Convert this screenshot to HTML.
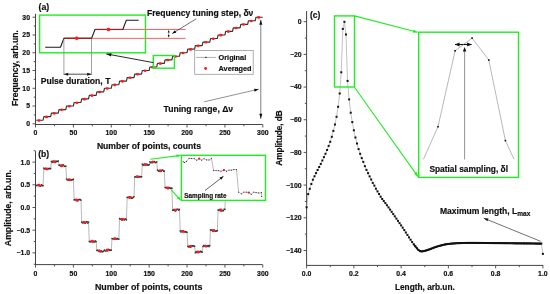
<!DOCTYPE html>
<html><head><meta charset="utf-8"><title>Figure</title>
<style>
html,body{margin:0;padding:0;background:#fff;}
svg{display:block;}
svg text{font-family:"Liberation Sans", Arial, sans-serif;font-weight:bold;fill:#111;stroke:#111;stroke-width:0.18px;}
</style></head>
<body>
<svg width="550" height="294" viewBox="0 0 550 294">
<rect width="550" height="294" fill="#fff"/>
<line x1="35.5" y1="13.8" x2="35.5" y2="124.5" stroke="#444" stroke-width="1" />
<line x1="32.5" y1="123.8" x2="35.5" y2="123.8" stroke="#444" stroke-width="0.9" />
<text x="30" y="126.2" font-size="6.9" text-anchor="end" >0</text>
<line x1="33.7" y1="114.92" x2="35.5" y2="114.92" stroke="#444" stroke-width="0.9" />
<line x1="32.5" y1="106.03" x2="35.5" y2="106.03" stroke="#444" stroke-width="0.9" />
<text x="30" y="108.44" font-size="6.9" text-anchor="end" >5</text>
<line x1="33.7" y1="97.15" x2="35.5" y2="97.15" stroke="#444" stroke-width="0.9" />
<line x1="32.5" y1="88.27" x2="35.5" y2="88.27" stroke="#444" stroke-width="0.9" />
<text x="30" y="90.67" font-size="6.9" text-anchor="end" >10</text>
<line x1="33.7" y1="79.39" x2="35.5" y2="79.39" stroke="#444" stroke-width="0.9" />
<line x1="32.5" y1="70.5" x2="35.5" y2="70.5" stroke="#444" stroke-width="0.9" />
<text x="30" y="72.91" font-size="6.9" text-anchor="end" >15</text>
<line x1="33.7" y1="61.62" x2="35.5" y2="61.62" stroke="#444" stroke-width="0.9" />
<line x1="32.5" y1="52.74" x2="35.5" y2="52.74" stroke="#444" stroke-width="0.9" />
<text x="30" y="55.14" font-size="6.9" text-anchor="end" >20</text>
<line x1="33.7" y1="43.86" x2="35.5" y2="43.86" stroke="#444" stroke-width="0.9" />
<line x1="32.5" y1="34.97" x2="35.5" y2="34.97" stroke="#444" stroke-width="0.9" />
<text x="30" y="37.37" font-size="6.9" text-anchor="end" >25</text>
<line x1="33.7" y1="26.09" x2="35.5" y2="26.09" stroke="#444" stroke-width="0.9" />
<line x1="32.5" y1="17.21" x2="35.5" y2="17.21" stroke="#444" stroke-width="0.9" />
<text x="30" y="19.61" font-size="6.9" text-anchor="end" >30</text>
<line x1="35" y1="124.5" x2="262.6" y2="124.5" stroke="#444" stroke-width="1" />
<line x1="35.5" y1="124.5" x2="35.5" y2="127.5" stroke="#444" stroke-width="0.9" />
<text x="35.5" y="135.2" font-size="6.9" text-anchor="middle" >0</text>
<line x1="54.44" y1="124.5" x2="54.44" y2="126.3" stroke="#444" stroke-width="0.9" />
<line x1="73.39" y1="124.5" x2="73.39" y2="127.5" stroke="#444" stroke-width="0.9" />
<text x="73.39" y="135.2" font-size="6.9" text-anchor="middle" >50</text>
<line x1="92.33" y1="124.5" x2="92.33" y2="126.3" stroke="#444" stroke-width="0.9" />
<line x1="111.27" y1="124.5" x2="111.27" y2="127.5" stroke="#444" stroke-width="0.9" />
<text x="111.27" y="135.2" font-size="6.9" text-anchor="middle" >100</text>
<line x1="130.21" y1="124.5" x2="130.21" y2="126.3" stroke="#444" stroke-width="0.9" />
<line x1="149.16" y1="124.5" x2="149.16" y2="127.5" stroke="#444" stroke-width="0.9" />
<text x="149.16" y="135.2" font-size="6.9" text-anchor="middle" >150</text>
<line x1="168.1" y1="124.5" x2="168.1" y2="126.3" stroke="#444" stroke-width="0.9" />
<line x1="187.04" y1="124.5" x2="187.04" y2="127.5" stroke="#444" stroke-width="0.9" />
<text x="187.04" y="135.2" font-size="6.9" text-anchor="middle" >200</text>
<line x1="205.98" y1="124.5" x2="205.98" y2="126.3" stroke="#444" stroke-width="0.9" />
<line x1="224.93" y1="124.5" x2="224.93" y2="127.5" stroke="#444" stroke-width="0.9" />
<text x="224.93" y="135.2" font-size="6.9" text-anchor="middle" >250</text>
<line x1="243.87" y1="124.5" x2="243.87" y2="126.3" stroke="#444" stroke-width="0.9" />
<line x1="262.81" y1="124.5" x2="262.81" y2="127.5" stroke="#444" stroke-width="0.9" />
<text x="262.81" y="135.2" font-size="6.9" text-anchor="middle" >300</text>
<polyline points="36.26,120.25 37.02,120.25 37.77,120.25 38.53,120.25 39.29,120.25 40.05,120.25 40.8,120.25 41.56,120.25 42.32,120.25 43.08,120.25 43.83,116.69 44.59,116.69 45.35,116.69 46.11,116.69 46.87,116.69 47.62,116.69 48.38,116.69 49.14,116.69 49.9,116.69 50.65,116.69 51.41,113.14 52.17,113.14 52.93,113.14 53.68,113.14 54.44,113.14 55.2,113.14 55.96,113.14 56.72,113.14 57.47,113.14 58.23,113.14 58.99,109.59 59.75,109.59 60.5,109.59 61.26,109.59 62.02,109.59 62.78,109.59 63.53,109.59 64.29,109.59 65.05,109.59 65.81,109.59 66.57,106.03 67.32,106.03 68.08,106.03 68.84,106.03 69.6,106.03 70.35,106.03 71.11,106.03 71.87,106.03 72.63,106.03 73.39,106.03 74.14,102.48 74.9,102.48 75.66,102.48 76.42,102.48 77.17,102.48 77.93,102.48 78.69,102.48 79.45,102.48 80.2,102.48 80.96,102.48 81.72,98.93 82.48,98.93 83.24,98.93 83.99,98.93 84.75,98.93 85.51,98.93 86.27,98.93 87.02,98.93 87.78,98.93 88.54,98.93 89.3,95.38 90.05,95.38 90.81,95.38 91.57,95.38 92.33,95.38 93.09,95.38 93.84,95.38 94.6,95.38 95.36,95.38 96.12,95.38 96.87,91.82 97.63,91.82 98.39,91.82 99.15,91.82 99.9,91.82 100.66,91.82 101.42,91.82 102.18,91.82 102.94,91.82 103.69,91.82 104.45,88.27 105.21,88.27 105.97,88.27 106.72,88.27 107.48,88.27 108.24,88.27 109,88.27 109.75,88.27 110.51,88.27 111.27,88.27 112.03,84.72 112.79,84.72 113.54,84.72 114.3,84.72 115.06,84.72 115.82,84.72 116.57,84.72 117.33,84.72 118.09,84.72 118.85,84.72 119.6,81.16 120.36,81.16 121.12,81.16 121.88,81.16 122.64,81.16 123.39,81.16 124.15,81.16 124.91,81.16 125.67,81.16 126.42,81.16 127.18,77.61 127.94,77.61 128.7,77.61 129.45,77.61 130.21,77.61 130.97,77.61 131.73,77.61 132.49,77.61 133.24,77.61 134,77.61 134.76,74.06 135.52,74.06 136.27,74.06 137.03,74.06 137.79,74.06 138.55,74.06 139.3,74.06 140.06,74.06 140.82,74.06 141.58,74.06 142.34,70.5 143.09,70.5 143.85,70.5 144.61,70.5 145.37,70.5 146.12,70.5 146.88,70.5 147.64,70.5 148.4,70.5 149.16,70.5 149.91,66.95 150.67,66.95 151.43,66.95 152.19,66.95 152.94,66.95 153.7,66.95 154.46,66.95 155.22,66.95 155.97,66.95 156.73,66.95 157.49,63.4 158.25,63.4 159.01,63.4 159.76,63.4 160.52,63.4 161.28,63.4 162.04,63.4 162.79,63.4 163.55,63.4 164.31,63.4 165.07,59.85 165.82,59.85 166.58,59.85 167.34,59.85 168.1,59.85 168.86,59.85 169.61,59.85 170.37,59.85 171.13,59.85 171.89,59.85 172.64,56.29 173.4,56.29 174.16,56.29 174.92,56.29 175.67,56.29 176.43,56.29 177.19,56.29 177.95,56.29 178.71,56.29 179.46,56.29 180.22,52.74 180.98,52.74 181.74,52.74 182.49,52.74 183.25,52.74 184.01,52.74 184.77,52.74 185.52,52.74 186.28,52.74 187.04,52.74 187.8,49.19 188.56,49.19 189.31,49.19 190.07,49.19 190.83,49.19 191.59,49.19 192.34,49.19 193.1,49.19 193.86,49.19 194.62,49.19 195.37,45.63 196.13,45.63 196.89,45.63 197.65,45.63 198.41,45.63 199.16,45.63 199.92,45.63 200.68,45.63 201.44,45.63 202.19,45.63 202.95,42.08 203.71,42.08 204.47,42.08 205.22,42.08 205.98,42.08 206.74,42.08 207.5,42.08 208.26,42.08 209.01,42.08 209.77,42.08 210.53,38.53 211.29,38.53 212.04,38.53 212.8,38.53 213.56,38.53 214.32,38.53 215.07,38.53 215.83,38.53 216.59,38.53 217.35,38.53 218.11,34.97 218.86,34.97 219.62,34.97 220.38,34.97 221.14,34.97 221.89,34.97 222.65,34.97 223.41,34.97 224.17,34.97 224.93,34.97 225.68,31.42 226.44,31.42 227.2,31.42 227.96,31.42 228.71,31.42 229.47,31.42 230.23,31.42 230.99,31.42 231.74,31.42 232.5,31.42 233.26,27.87 234.02,27.87 234.78,27.87 235.53,27.87 236.29,27.87 237.05,27.87 237.81,27.87 238.56,27.87 239.32,27.87 240.08,27.87 240.84,24.32 241.59,24.32 242.35,24.32 243.11,24.32 243.87,24.32 244.63,24.32 245.38,24.32 246.14,24.32 246.9,24.32 247.66,24.32 248.41,20.76 249.17,20.76 249.93,20.76 250.69,20.76 251.44,20.76 252.2,20.76 252.96,20.76 253.72,20.76 254.48,20.76 255.23,20.76 255.99,17.21 256.75,17.21 257.51,17.21 258.26,17.21 259.02,17.21 259.78,17.21 260.54,17.21 261.29,17.21 262.05,17.21 262.81,17.21" fill="none" stroke="#333" stroke-width="1.15" stroke-linejoin="round"/>
<ellipse cx="38.99" cy="120.45" rx="1.65" ry="1.3" fill="#ff1a1a"/>
<ellipse cx="46.56" cy="116.89" rx="1.65" ry="1.3" fill="#ff1a1a"/>
<ellipse cx="54.14" cy="113.34" rx="1.65" ry="1.3" fill="#ff1a1a"/>
<ellipse cx="61.72" cy="109.79" rx="1.65" ry="1.3" fill="#ff1a1a"/>
<ellipse cx="69.29" cy="106.23" rx="1.65" ry="1.3" fill="#ff1a1a"/>
<ellipse cx="76.87" cy="102.68" rx="1.65" ry="1.3" fill="#ff1a1a"/>
<ellipse cx="84.45" cy="99.13" rx="1.65" ry="1.3" fill="#ff1a1a"/>
<ellipse cx="92.02" cy="95.58" rx="1.65" ry="1.3" fill="#ff1a1a"/>
<ellipse cx="99.6" cy="92.02" rx="1.65" ry="1.3" fill="#ff1a1a"/>
<ellipse cx="107.18" cy="88.47" rx="1.65" ry="1.3" fill="#ff1a1a"/>
<ellipse cx="114.76" cy="84.92" rx="1.65" ry="1.3" fill="#ff1a1a"/>
<ellipse cx="122.33" cy="81.36" rx="1.65" ry="1.3" fill="#ff1a1a"/>
<ellipse cx="129.91" cy="77.81" rx="1.65" ry="1.3" fill="#ff1a1a"/>
<ellipse cx="137.49" cy="74.26" rx="1.65" ry="1.3" fill="#ff1a1a"/>
<ellipse cx="145.06" cy="70.7" rx="1.65" ry="1.3" fill="#ff1a1a"/>
<ellipse cx="152.64" cy="67.15" rx="1.65" ry="1.3" fill="#ff1a1a"/>
<ellipse cx="160.22" cy="63.6" rx="1.65" ry="1.3" fill="#ff1a1a"/>
<ellipse cx="167.79" cy="60.05" rx="1.65" ry="1.3" fill="#ff1a1a"/>
<ellipse cx="175.37" cy="56.49" rx="1.65" ry="1.3" fill="#ff1a1a"/>
<ellipse cx="182.95" cy="52.94" rx="1.65" ry="1.3" fill="#ff1a1a"/>
<ellipse cx="190.53" cy="49.39" rx="1.65" ry="1.3" fill="#ff1a1a"/>
<ellipse cx="198.1" cy="45.83" rx="1.65" ry="1.3" fill="#ff1a1a"/>
<ellipse cx="205.68" cy="42.28" rx="1.65" ry="1.3" fill="#ff1a1a"/>
<ellipse cx="213.26" cy="38.73" rx="1.65" ry="1.3" fill="#ff1a1a"/>
<ellipse cx="220.83" cy="35.17" rx="1.65" ry="1.3" fill="#ff1a1a"/>
<ellipse cx="228.41" cy="31.62" rx="1.65" ry="1.3" fill="#ff1a1a"/>
<ellipse cx="235.99" cy="28.07" rx="1.65" ry="1.3" fill="#ff1a1a"/>
<ellipse cx="243.56" cy="24.52" rx="1.65" ry="1.3" fill="#ff1a1a"/>
<ellipse cx="251.14" cy="20.96" rx="1.65" ry="1.3" fill="#ff1a1a"/>
<ellipse cx="258.72" cy="17.41" rx="1.65" ry="1.3" fill="#ff1a1a"/>
<rect x="39.6" y="15.1" width="105.9" height="37.7" fill="white" stroke="#22ec22" stroke-width="1.4"/>
<line x1="63.9" y1="38.35" x2="185.6" y2="38.35" stroke="#ff5c5c" stroke-width="1.0" />
<line x1="95" y1="29.45" x2="185.6" y2="29.45" stroke="#ff5c5c" stroke-width="1.0" />
<polyline points="45.2,47.2 60.5,47.2 63.9,38.35 91.5,38.35 95,29.45 122.8,29.45 126.3,20.3 138.6,20.3" fill="none" stroke="#1a1a1a" stroke-width="1.1" />
<line x1="64.3" y1="38.35" x2="91.3" y2="38.35" stroke="#a82020" stroke-width="1.2" />
<line x1="95.3" y1="29.45" x2="122.6" y2="29.45" stroke="#962222" stroke-width="1.2" />
<ellipse cx="76.7" cy="38.35" rx="2.0" ry="1.75" fill="#ff1a1a"/>
<ellipse cx="108.5" cy="29.45" rx="2.0" ry="1.75" fill="#ff1a1a"/>
<line x1="63.9" y1="38.6" x2="63.9" y2="75" stroke="#888" stroke-width="0.8" />
<line x1="91.5" y1="38.6" x2="91.5" y2="75" stroke="#888" stroke-width="0.8" />
<line x1="77.7" y1="74.2" x2="64.2" y2="74.2" stroke="#222" stroke-width="0.8" />
<polygon points="64.2,74.2 68.2,72.7 68.2,75.7" fill="#111"/>
<line x1="77.7" y1="74.2" x2="91.2" y2="74.2" stroke="#222" stroke-width="0.8" />
<polygon points="91.2,74.2 87.2,75.7 87.2,72.7" fill="#111"/>
<text x="40.7" y="84" font-size="8.6" text-anchor="start" >Pulse duration, T</text>
<rect x="153.3" y="55.5" width="21.1" height="12.7" fill="none" stroke="#22ec22" stroke-width="1.4"/>
<line x1="153.3" y1="62.6" x2="106.3" y2="53.9" stroke="#111" stroke-width="0.9" />
<polygon points="106.3,53.9 111.51,53.24 110.93,56.38" fill="#111"/>
<text x="147" y="15.8" font-size="8.55" text-anchor="start" >Frequency tuning step, δν</text>
<line x1="168.7" y1="33.8" x2="168.7" y2="30.3" stroke="#555" stroke-width="0.6" />
<polygon points="168.7,30.3 169.7,32.5 167.7,32.5" fill="#111"/>
<line x1="168.7" y1="33.8" x2="168.7" y2="37.3" stroke="#555" stroke-width="0.6" />
<polygon points="168.7,37.3 167.7,35.1 169.7,35.1" fill="#111"/>
<line x1="196.2" y1="18.8" x2="172.2" y2="33.6" stroke="#333" stroke-width="0.7" />
<polygon points="172.2,33.6 174.87,30.31 176.34,32.69" fill="#111"/>
<rect x="194.7" y="50.5" width="58.5" height="23.8" fill="white" stroke="#9a9a9a" stroke-width="0.8"/>
<line x1="196.1" y1="57.4" x2="216.1" y2="57.4" stroke="#999" stroke-width="0.8" />
<rect x="205.3" y="56.8" width="1.2" height="1.2" fill="#111"/>
<text x="218.6" y="60.2" font-size="7.3" text-anchor="start" >Original</text>
<circle cx="205.6" cy="68.5" r="1.4" fill="#ff1a1a"/>
<text x="218.6" y="71.4" font-size="7.3" text-anchor="start" >Averaged</text>
<text x="163.6" y="111.6" font-size="8.6" text-anchor="start" >Tuning range, Δν</text>
<line x1="204.1" y1="101.8" x2="258.7" y2="89.2" stroke="#555" stroke-width="0.65" />
<polygon points="258.7,89.2 254.65,91.67 253.98,88.75" fill="#111"/>
<line x1="260.8" y1="60" x2="260.8" y2="19.8" stroke="#555" stroke-width="0.75" />
<polygon points="260.8,19.8 262.3,24.8 259.3,24.8" fill="#111"/>
<line x1="260.8" y1="60" x2="260.8" y2="118.8" stroke="#555" stroke-width="0.75" />
<polygon points="260.8,118.8 259.3,113.8 262.3,113.8" fill="#111"/>
<text x="38.5" y="10.1" font-size="8.8" text-anchor="start" >(a)</text>
<text transform="translate(17.8,68.0) rotate(-90)" font-size="8.55" text-anchor="middle">Frequency, arb.un.</text>
<text x="96.9" y="149.4" font-size="8.6" text-anchor="start" >Number of points, counts</text>
<line x1="35.5" y1="151.1" x2="35.5" y2="264.6" stroke="#444" stroke-width="1" />
<line x1="33.7" y1="264.25" x2="35.5" y2="264.25" stroke="#444" stroke-width="0.9" />
<line x1="32.5" y1="252.9" x2="35.5" y2="252.9" stroke="#444" stroke-width="0.9" />
<text x="30.2" y="255.3" font-size="6.9" text-anchor="end" >−1.0</text>
<line x1="33.7" y1="241.55" x2="35.5" y2="241.55" stroke="#444" stroke-width="0.9" />
<line x1="32.5" y1="230.2" x2="35.5" y2="230.2" stroke="#444" stroke-width="0.9" />
<text x="30.2" y="232.6" font-size="6.9" text-anchor="end" >−0.5</text>
<line x1="33.7" y1="218.85" x2="35.5" y2="218.85" stroke="#444" stroke-width="0.9" />
<line x1="32.5" y1="207.5" x2="35.5" y2="207.5" stroke="#444" stroke-width="0.9" />
<text x="30.2" y="209.9" font-size="6.9" text-anchor="end" >0.0</text>
<line x1="33.7" y1="196.15" x2="35.5" y2="196.15" stroke="#444" stroke-width="0.9" />
<line x1="32.5" y1="184.8" x2="35.5" y2="184.8" stroke="#444" stroke-width="0.9" />
<text x="30.2" y="187.2" font-size="6.9" text-anchor="end" >0.5</text>
<line x1="33.7" y1="173.45" x2="35.5" y2="173.45" stroke="#444" stroke-width="0.9" />
<line x1="32.5" y1="162.1" x2="35.5" y2="162.1" stroke="#444" stroke-width="0.9" />
<text x="30.2" y="164.5" font-size="6.9" text-anchor="end" >1.0</text>
<line x1="33.7" y1="150.75" x2="35.5" y2="150.75" stroke="#444" stroke-width="0.9" />
<line x1="35" y1="264.6" x2="262.6" y2="264.6" stroke="#444" stroke-width="1" />
<line x1="35.5" y1="264.6" x2="35.5" y2="267.6" stroke="#444" stroke-width="0.9" />
<text x="35.5" y="275.8" font-size="6.9" text-anchor="middle" >0</text>
<line x1="54.44" y1="264.6" x2="54.44" y2="266.4" stroke="#444" stroke-width="0.9" />
<line x1="73.39" y1="264.6" x2="73.39" y2="267.6" stroke="#444" stroke-width="0.9" />
<text x="73.39" y="275.8" font-size="6.9" text-anchor="middle" >50</text>
<line x1="92.33" y1="264.6" x2="92.33" y2="266.4" stroke="#444" stroke-width="0.9" />
<line x1="111.27" y1="264.6" x2="111.27" y2="267.6" stroke="#444" stroke-width="0.9" />
<text x="111.27" y="275.8" font-size="6.9" text-anchor="middle" >100</text>
<line x1="130.21" y1="264.6" x2="130.21" y2="266.4" stroke="#444" stroke-width="0.9" />
<line x1="149.16" y1="264.6" x2="149.16" y2="267.6" stroke="#444" stroke-width="0.9" />
<text x="149.16" y="275.8" font-size="6.9" text-anchor="middle" >150</text>
<line x1="168.1" y1="264.6" x2="168.1" y2="266.4" stroke="#444" stroke-width="0.9" />
<line x1="187.04" y1="264.6" x2="187.04" y2="267.6" stroke="#444" stroke-width="0.9" />
<text x="187.04" y="275.8" font-size="6.9" text-anchor="middle" >200</text>
<line x1="205.98" y1="264.6" x2="205.98" y2="266.4" stroke="#444" stroke-width="0.9" />
<line x1="224.93" y1="264.6" x2="224.93" y2="267.6" stroke="#444" stroke-width="0.9" />
<text x="224.93" y="275.8" font-size="6.9" text-anchor="middle" >250</text>
<line x1="243.87" y1="264.6" x2="243.87" y2="266.4" stroke="#444" stroke-width="0.9" />
<line x1="262.81" y1="264.6" x2="262.81" y2="267.6" stroke="#444" stroke-width="0.9" />
<text x="262.81" y="275.8" font-size="6.9" text-anchor="middle" >300</text>
<polyline points="36.26,185.68 37.02,185.18 37.77,185.47 38.53,185.08 39.29,185.05 40.05,185.96 40.8,186.05 41.56,184.7 42.32,185.65 43.08,185.69 43.83,168.1 44.59,168.96 45.35,168.36 46.11,168.95 46.87,168.68 47.62,169.48 48.38,168.69 49.14,168.31 49.9,168.87 50.65,168.52 51.41,161.37 52.17,162.36 52.93,161.22 53.68,161.5 54.44,161.97 55.2,162.41 55.96,161.05 56.72,161.69 57.47,161.29 58.23,161.03 58.99,165.38 59.75,165.04 60.5,165.9 61.26,165.24 62.02,165.82 62.78,165.02 63.53,165.11 64.29,166.39 65.05,166.33 65.81,166.19 66.57,179.05 67.32,179.91 68.08,179.6 68.84,180.13 69.6,179.79 70.35,179.99 71.11,180.05 71.87,179.67 72.63,179.67 73.39,179.15 74.14,199.94 74.9,199.53 75.66,199.65 76.42,199.43 77.17,199.96 77.93,200.79 78.69,199.65 79.45,199.48 80.2,199.57 80.96,200.12 81.72,222.13 82.48,222.95 83.24,221.94 83.99,222.36 84.75,222.83 85.51,223.2 86.27,221.9 87.02,221.68 87.78,223.15 88.54,221.99 89.3,241.47 90.05,241.89 90.81,241.66 91.57,240.88 92.33,240.71 93.09,242.07 93.84,241.14 94.6,242.07 95.36,240.97 96.12,241.6 96.87,250.46 97.63,250.3 98.39,251.08 99.15,250.27 99.9,251.4 100.66,251.78 101.42,250.92 102.18,251.85 102.94,251.58 103.69,251.23 104.45,250 105.21,250.74 105.97,250.92 106.72,249.57 107.48,250.48 108.24,249.43 109,249.53 109.75,250.38 110.51,250.24 111.27,250.14 112.03,238.59 112.79,238.67 113.54,238.73 114.3,238.63 115.06,238.11 115.82,238.81 116.57,238.94 117.33,238.47 118.09,239.25 118.85,239.15 119.6,218.52 120.36,219.27 121.12,219.22 121.88,220.1 122.64,219.44 123.39,219.17 124.15,220.09 124.91,219.11 125.67,219.09 126.42,220.02 127.18,197.3 127.94,197.57 128.7,197.22 129.45,197.75 130.21,197.17 130.97,197.12 131.73,198.29 132.49,198.23 133.24,197.22 134,196.75 134.76,177.03 135.52,176.7 136.27,176.48 137.03,176.92 137.79,176.85 138.55,176.93 139.3,176.84 140.06,176.47 140.82,176.95 141.58,176.83 142.34,164.15 143.09,165.37 143.85,164.48 144.61,164.21 145.37,164.91 146.12,165.05 146.88,164.1 147.64,165.02 148.4,165.11 149.16,164.7 149.91,161.78 150.67,162.75 151.43,162.39 152.19,162.37 152.94,161.55 153.7,162.2 154.46,161.52 155.22,162.64 155.97,162.37 156.73,161.85 157.49,170.1 158.25,170.81 159.01,171.18 159.76,171.35 160.52,170.68 161.28,171.23 162.04,170.22 162.79,170.17 163.55,171.24 164.31,171.09 165.07,187.48 165.82,187.75 166.58,187.48 167.34,188.23 168.1,188.58 168.86,188.32 169.61,187.5 170.37,188.35 171.13,188.23 171.89,188.11 172.64,210.22 173.4,210.24 174.16,209.4 174.92,210.65 175.67,210.9 176.43,209.36 177.19,209.47 177.95,209.29 178.71,210.2 179.46,209.35 180.22,230.86 180.98,232.02 181.74,231.16 182.49,231.01 183.25,231.3 184.01,231.53 184.77,231.91 185.52,231.82 186.28,232.01 187.04,232.27 187.8,246.4 188.56,246.89 189.31,246.04 190.07,247.29 190.83,245.88 191.59,246.23 192.34,245.85 193.1,245.9 193.86,245.89 194.62,246.42 195.37,252.79 196.13,251.59 196.89,252.53 197.65,252.32 198.41,251.73 199.16,251.95 199.92,252.13 200.68,251.27 201.44,251.81 202.19,252.25 202.95,246.49 203.71,245.5 204.47,246.13 205.22,245.63 205.98,246.33 206.74,246.58 207.5,246.03 208.26,245.57 209.01,246.63 209.77,245.61 210.53,229.96 211.29,230.15 212.04,230.13 212.8,231.46 213.56,230.44 214.32,230.06 215.07,231.39 215.83,231.03 216.59,231.03 217.35,230.61 218.11,210.12 218.86,210.04 219.62,209.55 220.38,210.81 221.14,210.72 221.89,210.61 222.65,210.61 223.41,210.7 224.17,209.22 224.93,209.42 225.68,190.02 226.44,189.34 227.2,189.64 227.96,189.64 228.71,189.58 229.47,189.1 230.23,189.2 230.99,189.57 231.74,189.84 232.5,189.62 233.26,172.7 234.02,172 234.78,171.73 235.53,172.28 236.29,172.77 237.05,172.61 237.81,172.3 238.56,171.92 239.32,171.63 240.08,172.28 240.84,162.97 241.59,163.26 242.35,163.57 243.11,163.67 243.87,163.47 244.63,163.13 245.38,163.59 246.14,163.14 246.9,163.53 247.66,163.88 248.41,162.95 249.17,162.69 249.93,163.71 250.69,163.13 251.44,163.13 252.2,162.39 252.96,162.29 253.72,163.21 254.48,162.36 255.23,162.53 255.99,171.57 256.75,171.24 257.51,171.8 258.26,170.67 259.02,170.91 259.78,170.55 260.54,170.7 261.29,170.91 262.05,170.8 262.81,171.08" fill="none" stroke="#8a8a8a" stroke-width="0.6" />
<rect x="35.56" y="184.98" width="1.4" height="1.4" fill="#333"/>
<rect x="36.32" y="184.48" width="1.4" height="1.4" fill="#333"/>
<rect x="37.07" y="184.77" width="1.4" height="1.4" fill="#333"/>
<rect x="37.83" y="184.38" width="1.4" height="1.4" fill="#333"/>
<rect x="38.59" y="184.35" width="1.4" height="1.4" fill="#333"/>
<rect x="39.35" y="185.26" width="1.4" height="1.4" fill="#333"/>
<rect x="40.1" y="185.35" width="1.4" height="1.4" fill="#333"/>
<rect x="40.86" y="184" width="1.4" height="1.4" fill="#333"/>
<rect x="41.62" y="184.95" width="1.4" height="1.4" fill="#333"/>
<rect x="42.38" y="184.99" width="1.4" height="1.4" fill="#333"/>
<rect x="43.13" y="167.4" width="1.4" height="1.4" fill="#333"/>
<rect x="43.89" y="168.26" width="1.4" height="1.4" fill="#333"/>
<rect x="44.65" y="167.66" width="1.4" height="1.4" fill="#333"/>
<rect x="45.41" y="168.25" width="1.4" height="1.4" fill="#333"/>
<rect x="46.17" y="167.98" width="1.4" height="1.4" fill="#333"/>
<rect x="46.92" y="168.78" width="1.4" height="1.4" fill="#333"/>
<rect x="47.68" y="167.99" width="1.4" height="1.4" fill="#333"/>
<rect x="48.44" y="167.61" width="1.4" height="1.4" fill="#333"/>
<rect x="49.2" y="168.17" width="1.4" height="1.4" fill="#333"/>
<rect x="49.95" y="167.82" width="1.4" height="1.4" fill="#333"/>
<rect x="50.71" y="160.67" width="1.4" height="1.4" fill="#333"/>
<rect x="51.47" y="161.66" width="1.4" height="1.4" fill="#333"/>
<rect x="52.23" y="160.52" width="1.4" height="1.4" fill="#333"/>
<rect x="52.98" y="160.8" width="1.4" height="1.4" fill="#333"/>
<rect x="53.74" y="161.27" width="1.4" height="1.4" fill="#333"/>
<rect x="54.5" y="161.71" width="1.4" height="1.4" fill="#333"/>
<rect x="55.26" y="160.35" width="1.4" height="1.4" fill="#333"/>
<rect x="56.02" y="160.99" width="1.4" height="1.4" fill="#333"/>
<rect x="56.77" y="160.59" width="1.4" height="1.4" fill="#333"/>
<rect x="57.53" y="160.33" width="1.4" height="1.4" fill="#333"/>
<rect x="58.29" y="164.68" width="1.4" height="1.4" fill="#333"/>
<rect x="59.05" y="164.34" width="1.4" height="1.4" fill="#333"/>
<rect x="59.8" y="165.2" width="1.4" height="1.4" fill="#333"/>
<rect x="60.56" y="164.54" width="1.4" height="1.4" fill="#333"/>
<rect x="61.32" y="165.12" width="1.4" height="1.4" fill="#333"/>
<rect x="62.08" y="164.32" width="1.4" height="1.4" fill="#333"/>
<rect x="62.83" y="164.41" width="1.4" height="1.4" fill="#333"/>
<rect x="63.59" y="165.69" width="1.4" height="1.4" fill="#333"/>
<rect x="64.35" y="165.63" width="1.4" height="1.4" fill="#333"/>
<rect x="65.11" y="165.49" width="1.4" height="1.4" fill="#333"/>
<rect x="65.87" y="178.35" width="1.4" height="1.4" fill="#333"/>
<rect x="66.62" y="179.21" width="1.4" height="1.4" fill="#333"/>
<rect x="67.38" y="178.9" width="1.4" height="1.4" fill="#333"/>
<rect x="68.14" y="179.43" width="1.4" height="1.4" fill="#333"/>
<rect x="68.9" y="179.09" width="1.4" height="1.4" fill="#333"/>
<rect x="69.65" y="179.29" width="1.4" height="1.4" fill="#333"/>
<rect x="70.41" y="179.35" width="1.4" height="1.4" fill="#333"/>
<rect x="71.17" y="178.97" width="1.4" height="1.4" fill="#333"/>
<rect x="71.93" y="178.97" width="1.4" height="1.4" fill="#333"/>
<rect x="72.69" y="178.45" width="1.4" height="1.4" fill="#333"/>
<rect x="73.44" y="199.24" width="1.4" height="1.4" fill="#333"/>
<rect x="74.2" y="198.83" width="1.4" height="1.4" fill="#333"/>
<rect x="74.96" y="198.95" width="1.4" height="1.4" fill="#333"/>
<rect x="75.72" y="198.73" width="1.4" height="1.4" fill="#333"/>
<rect x="76.47" y="199.26" width="1.4" height="1.4" fill="#333"/>
<rect x="77.23" y="200.09" width="1.4" height="1.4" fill="#333"/>
<rect x="77.99" y="198.95" width="1.4" height="1.4" fill="#333"/>
<rect x="78.75" y="198.78" width="1.4" height="1.4" fill="#333"/>
<rect x="79.5" y="198.87" width="1.4" height="1.4" fill="#333"/>
<rect x="80.26" y="199.42" width="1.4" height="1.4" fill="#333"/>
<rect x="81.02" y="221.43" width="1.4" height="1.4" fill="#333"/>
<rect x="81.78" y="222.25" width="1.4" height="1.4" fill="#333"/>
<rect x="82.54" y="221.24" width="1.4" height="1.4" fill="#333"/>
<rect x="83.29" y="221.66" width="1.4" height="1.4" fill="#333"/>
<rect x="84.05" y="222.13" width="1.4" height="1.4" fill="#333"/>
<rect x="84.81" y="222.5" width="1.4" height="1.4" fill="#333"/>
<rect x="85.57" y="221.2" width="1.4" height="1.4" fill="#333"/>
<rect x="86.32" y="220.98" width="1.4" height="1.4" fill="#333"/>
<rect x="87.08" y="222.45" width="1.4" height="1.4" fill="#333"/>
<rect x="87.84" y="221.29" width="1.4" height="1.4" fill="#333"/>
<rect x="88.6" y="240.77" width="1.4" height="1.4" fill="#333"/>
<rect x="89.35" y="241.19" width="1.4" height="1.4" fill="#333"/>
<rect x="90.11" y="240.96" width="1.4" height="1.4" fill="#333"/>
<rect x="90.87" y="240.18" width="1.4" height="1.4" fill="#333"/>
<rect x="91.63" y="240.01" width="1.4" height="1.4" fill="#333"/>
<rect x="92.39" y="241.37" width="1.4" height="1.4" fill="#333"/>
<rect x="93.14" y="240.44" width="1.4" height="1.4" fill="#333"/>
<rect x="93.9" y="241.37" width="1.4" height="1.4" fill="#333"/>
<rect x="94.66" y="240.27" width="1.4" height="1.4" fill="#333"/>
<rect x="95.42" y="240.9" width="1.4" height="1.4" fill="#333"/>
<rect x="96.17" y="249.76" width="1.4" height="1.4" fill="#333"/>
<rect x="96.93" y="249.6" width="1.4" height="1.4" fill="#333"/>
<rect x="97.69" y="250.38" width="1.4" height="1.4" fill="#333"/>
<rect x="98.45" y="249.57" width="1.4" height="1.4" fill="#333"/>
<rect x="99.2" y="250.7" width="1.4" height="1.4" fill="#333"/>
<rect x="99.96" y="251.08" width="1.4" height="1.4" fill="#333"/>
<rect x="100.72" y="250.22" width="1.4" height="1.4" fill="#333"/>
<rect x="101.48" y="251.15" width="1.4" height="1.4" fill="#333"/>
<rect x="102.24" y="250.88" width="1.4" height="1.4" fill="#333"/>
<rect x="102.99" y="250.53" width="1.4" height="1.4" fill="#333"/>
<rect x="103.75" y="249.3" width="1.4" height="1.4" fill="#333"/>
<rect x="104.51" y="250.04" width="1.4" height="1.4" fill="#333"/>
<rect x="105.27" y="250.22" width="1.4" height="1.4" fill="#333"/>
<rect x="106.02" y="248.87" width="1.4" height="1.4" fill="#333"/>
<rect x="106.78" y="249.78" width="1.4" height="1.4" fill="#333"/>
<rect x="107.54" y="248.73" width="1.4" height="1.4" fill="#333"/>
<rect x="108.3" y="248.83" width="1.4" height="1.4" fill="#333"/>
<rect x="109.05" y="249.68" width="1.4" height="1.4" fill="#333"/>
<rect x="109.81" y="249.54" width="1.4" height="1.4" fill="#333"/>
<rect x="110.57" y="249.44" width="1.4" height="1.4" fill="#333"/>
<rect x="111.33" y="237.89" width="1.4" height="1.4" fill="#333"/>
<rect x="112.09" y="237.97" width="1.4" height="1.4" fill="#333"/>
<rect x="112.84" y="238.03" width="1.4" height="1.4" fill="#333"/>
<rect x="113.6" y="237.93" width="1.4" height="1.4" fill="#333"/>
<rect x="114.36" y="237.41" width="1.4" height="1.4" fill="#333"/>
<rect x="115.12" y="238.11" width="1.4" height="1.4" fill="#333"/>
<rect x="115.87" y="238.24" width="1.4" height="1.4" fill="#333"/>
<rect x="116.63" y="237.77" width="1.4" height="1.4" fill="#333"/>
<rect x="117.39" y="238.55" width="1.4" height="1.4" fill="#333"/>
<rect x="118.15" y="238.45" width="1.4" height="1.4" fill="#333"/>
<rect x="118.9" y="217.82" width="1.4" height="1.4" fill="#333"/>
<rect x="119.66" y="218.57" width="1.4" height="1.4" fill="#333"/>
<rect x="120.42" y="218.52" width="1.4" height="1.4" fill="#333"/>
<rect x="121.18" y="219.4" width="1.4" height="1.4" fill="#333"/>
<rect x="121.94" y="218.74" width="1.4" height="1.4" fill="#333"/>
<rect x="122.69" y="218.47" width="1.4" height="1.4" fill="#333"/>
<rect x="123.45" y="219.39" width="1.4" height="1.4" fill="#333"/>
<rect x="124.21" y="218.41" width="1.4" height="1.4" fill="#333"/>
<rect x="124.97" y="218.39" width="1.4" height="1.4" fill="#333"/>
<rect x="125.72" y="219.32" width="1.4" height="1.4" fill="#333"/>
<rect x="126.48" y="196.6" width="1.4" height="1.4" fill="#333"/>
<rect x="127.24" y="196.87" width="1.4" height="1.4" fill="#333"/>
<rect x="128" y="196.52" width="1.4" height="1.4" fill="#333"/>
<rect x="128.75" y="197.05" width="1.4" height="1.4" fill="#333"/>
<rect x="129.51" y="196.47" width="1.4" height="1.4" fill="#333"/>
<rect x="130.27" y="196.42" width="1.4" height="1.4" fill="#333"/>
<rect x="131.03" y="197.59" width="1.4" height="1.4" fill="#333"/>
<rect x="131.79" y="197.53" width="1.4" height="1.4" fill="#333"/>
<rect x="132.54" y="196.52" width="1.4" height="1.4" fill="#333"/>
<rect x="133.3" y="196.05" width="1.4" height="1.4" fill="#333"/>
<rect x="134.06" y="176.33" width="1.4" height="1.4" fill="#333"/>
<rect x="134.82" y="176" width="1.4" height="1.4" fill="#333"/>
<rect x="135.57" y="175.78" width="1.4" height="1.4" fill="#333"/>
<rect x="136.33" y="176.22" width="1.4" height="1.4" fill="#333"/>
<rect x="137.09" y="176.15" width="1.4" height="1.4" fill="#333"/>
<rect x="137.85" y="176.23" width="1.4" height="1.4" fill="#333"/>
<rect x="138.6" y="176.14" width="1.4" height="1.4" fill="#333"/>
<rect x="139.36" y="175.77" width="1.4" height="1.4" fill="#333"/>
<rect x="140.12" y="176.25" width="1.4" height="1.4" fill="#333"/>
<rect x="140.88" y="176.13" width="1.4" height="1.4" fill="#333"/>
<rect x="141.64" y="163.45" width="1.4" height="1.4" fill="#333"/>
<rect x="142.39" y="164.67" width="1.4" height="1.4" fill="#333"/>
<rect x="143.15" y="163.78" width="1.4" height="1.4" fill="#333"/>
<rect x="143.91" y="163.51" width="1.4" height="1.4" fill="#333"/>
<rect x="144.67" y="164.21" width="1.4" height="1.4" fill="#333"/>
<rect x="145.42" y="164.35" width="1.4" height="1.4" fill="#333"/>
<rect x="146.18" y="163.4" width="1.4" height="1.4" fill="#333"/>
<rect x="146.94" y="164.32" width="1.4" height="1.4" fill="#333"/>
<rect x="147.7" y="164.41" width="1.4" height="1.4" fill="#333"/>
<rect x="148.46" y="164" width="1.4" height="1.4" fill="#333"/>
<rect x="149.21" y="161.08" width="1.4" height="1.4" fill="#333"/>
<rect x="149.97" y="162.05" width="1.4" height="1.4" fill="#333"/>
<rect x="150.73" y="161.69" width="1.4" height="1.4" fill="#333"/>
<rect x="151.49" y="161.67" width="1.4" height="1.4" fill="#333"/>
<rect x="152.24" y="160.85" width="1.4" height="1.4" fill="#333"/>
<rect x="153" y="161.5" width="1.4" height="1.4" fill="#333"/>
<rect x="153.76" y="160.82" width="1.4" height="1.4" fill="#333"/>
<rect x="154.52" y="161.94" width="1.4" height="1.4" fill="#333"/>
<rect x="155.27" y="161.67" width="1.4" height="1.4" fill="#333"/>
<rect x="156.03" y="161.15" width="1.4" height="1.4" fill="#333"/>
<rect x="156.79" y="169.4" width="1.4" height="1.4" fill="#333"/>
<rect x="157.55" y="170.11" width="1.4" height="1.4" fill="#333"/>
<rect x="158.31" y="170.48" width="1.4" height="1.4" fill="#333"/>
<rect x="159.06" y="170.65" width="1.4" height="1.4" fill="#333"/>
<rect x="159.82" y="169.98" width="1.4" height="1.4" fill="#333"/>
<rect x="160.58" y="170.53" width="1.4" height="1.4" fill="#333"/>
<rect x="161.34" y="169.52" width="1.4" height="1.4" fill="#333"/>
<rect x="162.09" y="169.47" width="1.4" height="1.4" fill="#333"/>
<rect x="162.85" y="170.54" width="1.4" height="1.4" fill="#333"/>
<rect x="163.61" y="170.39" width="1.4" height="1.4" fill="#333"/>
<rect x="164.37" y="186.78" width="1.4" height="1.4" fill="#333"/>
<rect x="165.12" y="187.05" width="1.4" height="1.4" fill="#333"/>
<rect x="165.88" y="186.78" width="1.4" height="1.4" fill="#333"/>
<rect x="166.64" y="187.53" width="1.4" height="1.4" fill="#333"/>
<rect x="167.4" y="187.88" width="1.4" height="1.4" fill="#333"/>
<rect x="168.16" y="187.62" width="1.4" height="1.4" fill="#333"/>
<rect x="168.91" y="186.8" width="1.4" height="1.4" fill="#333"/>
<rect x="169.67" y="187.65" width="1.4" height="1.4" fill="#333"/>
<rect x="170.43" y="187.53" width="1.4" height="1.4" fill="#333"/>
<rect x="171.19" y="187.41" width="1.4" height="1.4" fill="#333"/>
<rect x="171.94" y="209.52" width="1.4" height="1.4" fill="#333"/>
<rect x="172.7" y="209.54" width="1.4" height="1.4" fill="#333"/>
<rect x="173.46" y="208.7" width="1.4" height="1.4" fill="#333"/>
<rect x="174.22" y="209.95" width="1.4" height="1.4" fill="#333"/>
<rect x="174.97" y="210.2" width="1.4" height="1.4" fill="#333"/>
<rect x="175.73" y="208.66" width="1.4" height="1.4" fill="#333"/>
<rect x="176.49" y="208.77" width="1.4" height="1.4" fill="#333"/>
<rect x="177.25" y="208.59" width="1.4" height="1.4" fill="#333"/>
<rect x="178.01" y="209.5" width="1.4" height="1.4" fill="#333"/>
<rect x="178.76" y="208.65" width="1.4" height="1.4" fill="#333"/>
<rect x="179.52" y="230.16" width="1.4" height="1.4" fill="#333"/>
<rect x="180.28" y="231.32" width="1.4" height="1.4" fill="#333"/>
<rect x="181.04" y="230.46" width="1.4" height="1.4" fill="#333"/>
<rect x="181.79" y="230.31" width="1.4" height="1.4" fill="#333"/>
<rect x="182.55" y="230.6" width="1.4" height="1.4" fill="#333"/>
<rect x="183.31" y="230.83" width="1.4" height="1.4" fill="#333"/>
<rect x="184.07" y="231.21" width="1.4" height="1.4" fill="#333"/>
<rect x="184.82" y="231.12" width="1.4" height="1.4" fill="#333"/>
<rect x="185.58" y="231.31" width="1.4" height="1.4" fill="#333"/>
<rect x="186.34" y="231.57" width="1.4" height="1.4" fill="#333"/>
<rect x="187.1" y="245.7" width="1.4" height="1.4" fill="#333"/>
<rect x="187.86" y="246.19" width="1.4" height="1.4" fill="#333"/>
<rect x="188.61" y="245.34" width="1.4" height="1.4" fill="#333"/>
<rect x="189.37" y="246.59" width="1.4" height="1.4" fill="#333"/>
<rect x="190.13" y="245.18" width="1.4" height="1.4" fill="#333"/>
<rect x="190.89" y="245.53" width="1.4" height="1.4" fill="#333"/>
<rect x="191.64" y="245.15" width="1.4" height="1.4" fill="#333"/>
<rect x="192.4" y="245.2" width="1.4" height="1.4" fill="#333"/>
<rect x="193.16" y="245.19" width="1.4" height="1.4" fill="#333"/>
<rect x="193.92" y="245.72" width="1.4" height="1.4" fill="#333"/>
<rect x="194.67" y="252.09" width="1.4" height="1.4" fill="#333"/>
<rect x="195.43" y="250.89" width="1.4" height="1.4" fill="#333"/>
<rect x="196.19" y="251.83" width="1.4" height="1.4" fill="#333"/>
<rect x="196.95" y="251.62" width="1.4" height="1.4" fill="#333"/>
<rect x="197.71" y="251.03" width="1.4" height="1.4" fill="#333"/>
<rect x="198.46" y="251.25" width="1.4" height="1.4" fill="#333"/>
<rect x="199.22" y="251.43" width="1.4" height="1.4" fill="#333"/>
<rect x="199.98" y="250.57" width="1.4" height="1.4" fill="#333"/>
<rect x="200.74" y="251.11" width="1.4" height="1.4" fill="#333"/>
<rect x="201.49" y="251.55" width="1.4" height="1.4" fill="#333"/>
<rect x="202.25" y="245.79" width="1.4" height="1.4" fill="#333"/>
<rect x="203.01" y="244.8" width="1.4" height="1.4" fill="#333"/>
<rect x="203.77" y="245.43" width="1.4" height="1.4" fill="#333"/>
<rect x="204.52" y="244.93" width="1.4" height="1.4" fill="#333"/>
<rect x="205.28" y="245.63" width="1.4" height="1.4" fill="#333"/>
<rect x="206.04" y="245.88" width="1.4" height="1.4" fill="#333"/>
<rect x="206.8" y="245.33" width="1.4" height="1.4" fill="#333"/>
<rect x="207.56" y="244.87" width="1.4" height="1.4" fill="#333"/>
<rect x="208.31" y="245.93" width="1.4" height="1.4" fill="#333"/>
<rect x="209.07" y="244.91" width="1.4" height="1.4" fill="#333"/>
<rect x="209.83" y="229.26" width="1.4" height="1.4" fill="#333"/>
<rect x="210.59" y="229.45" width="1.4" height="1.4" fill="#333"/>
<rect x="211.34" y="229.43" width="1.4" height="1.4" fill="#333"/>
<rect x="212.1" y="230.76" width="1.4" height="1.4" fill="#333"/>
<rect x="212.86" y="229.74" width="1.4" height="1.4" fill="#333"/>
<rect x="213.62" y="229.36" width="1.4" height="1.4" fill="#333"/>
<rect x="214.37" y="230.69" width="1.4" height="1.4" fill="#333"/>
<rect x="215.13" y="230.33" width="1.4" height="1.4" fill="#333"/>
<rect x="215.89" y="230.33" width="1.4" height="1.4" fill="#333"/>
<rect x="216.65" y="229.91" width="1.4" height="1.4" fill="#333"/>
<rect x="217.41" y="209.42" width="1.4" height="1.4" fill="#333"/>
<rect x="218.16" y="209.34" width="1.4" height="1.4" fill="#333"/>
<rect x="218.92" y="208.85" width="1.4" height="1.4" fill="#333"/>
<rect x="219.68" y="210.11" width="1.4" height="1.4" fill="#333"/>
<rect x="220.44" y="210.02" width="1.4" height="1.4" fill="#333"/>
<rect x="221.19" y="209.91" width="1.4" height="1.4" fill="#333"/>
<rect x="221.95" y="209.91" width="1.4" height="1.4" fill="#333"/>
<rect x="222.71" y="210" width="1.4" height="1.4" fill="#333"/>
<rect x="223.47" y="208.52" width="1.4" height="1.4" fill="#333"/>
<rect x="224.23" y="208.72" width="1.4" height="1.4" fill="#333"/>
<rect x="224.98" y="189.32" width="1.4" height="1.4" fill="#333"/>
<rect x="225.74" y="188.64" width="1.4" height="1.4" fill="#333"/>
<rect x="226.5" y="188.94" width="1.4" height="1.4" fill="#333"/>
<rect x="227.26" y="188.94" width="1.4" height="1.4" fill="#333"/>
<rect x="228.01" y="188.88" width="1.4" height="1.4" fill="#333"/>
<rect x="228.77" y="188.4" width="1.4" height="1.4" fill="#333"/>
<rect x="229.53" y="188.5" width="1.4" height="1.4" fill="#333"/>
<rect x="230.29" y="188.87" width="1.4" height="1.4" fill="#333"/>
<rect x="231.04" y="189.14" width="1.4" height="1.4" fill="#333"/>
<rect x="231.8" y="188.92" width="1.4" height="1.4" fill="#333"/>
<rect x="232.56" y="172" width="1.4" height="1.4" fill="#333"/>
<rect x="233.32" y="171.3" width="1.4" height="1.4" fill="#333"/>
<rect x="234.08" y="171.03" width="1.4" height="1.4" fill="#333"/>
<rect x="234.83" y="171.58" width="1.4" height="1.4" fill="#333"/>
<rect x="235.59" y="172.07" width="1.4" height="1.4" fill="#333"/>
<rect x="236.35" y="171.91" width="1.4" height="1.4" fill="#333"/>
<rect x="237.11" y="171.6" width="1.4" height="1.4" fill="#333"/>
<rect x="237.86" y="171.22" width="1.4" height="1.4" fill="#333"/>
<rect x="238.62" y="170.93" width="1.4" height="1.4" fill="#333"/>
<rect x="239.38" y="171.58" width="1.4" height="1.4" fill="#333"/>
<rect x="240.14" y="162.27" width="1.4" height="1.4" fill="#333"/>
<rect x="240.89" y="162.56" width="1.4" height="1.4" fill="#333"/>
<rect x="241.65" y="162.87" width="1.4" height="1.4" fill="#333"/>
<rect x="242.41" y="162.97" width="1.4" height="1.4" fill="#333"/>
<rect x="243.17" y="162.77" width="1.4" height="1.4" fill="#333"/>
<rect x="243.93" y="162.43" width="1.4" height="1.4" fill="#333"/>
<rect x="244.68" y="162.89" width="1.4" height="1.4" fill="#333"/>
<rect x="245.44" y="162.44" width="1.4" height="1.4" fill="#333"/>
<rect x="246.2" y="162.83" width="1.4" height="1.4" fill="#333"/>
<rect x="246.96" y="163.18" width="1.4" height="1.4" fill="#333"/>
<rect x="247.71" y="162.25" width="1.4" height="1.4" fill="#333"/>
<rect x="248.47" y="161.99" width="1.4" height="1.4" fill="#333"/>
<rect x="249.23" y="163.01" width="1.4" height="1.4" fill="#333"/>
<rect x="249.99" y="162.43" width="1.4" height="1.4" fill="#333"/>
<rect x="250.74" y="162.43" width="1.4" height="1.4" fill="#333"/>
<rect x="251.5" y="161.69" width="1.4" height="1.4" fill="#333"/>
<rect x="252.26" y="161.59" width="1.4" height="1.4" fill="#333"/>
<rect x="253.02" y="162.51" width="1.4" height="1.4" fill="#333"/>
<rect x="253.78" y="161.66" width="1.4" height="1.4" fill="#333"/>
<rect x="254.53" y="161.83" width="1.4" height="1.4" fill="#333"/>
<rect x="255.29" y="170.87" width="1.4" height="1.4" fill="#333"/>
<rect x="256.05" y="170.54" width="1.4" height="1.4" fill="#333"/>
<rect x="256.81" y="171.1" width="1.4" height="1.4" fill="#333"/>
<rect x="257.56" y="169.97" width="1.4" height="1.4" fill="#333"/>
<rect x="258.32" y="170.21" width="1.4" height="1.4" fill="#333"/>
<rect x="259.08" y="169.85" width="1.4" height="1.4" fill="#333"/>
<rect x="259.84" y="170" width="1.4" height="1.4" fill="#333"/>
<rect x="260.59" y="170.21" width="1.4" height="1.4" fill="#333"/>
<rect x="261.35" y="170.1" width="1.4" height="1.4" fill="#333"/>
<rect x="262.11" y="170.38" width="1.4" height="1.4" fill="#333"/>
<ellipse cx="38.99" cy="185.25" rx="1.7" ry="1.45" fill="#ff1a1a"/>
<ellipse cx="46.56" cy="168.91" rx="1.7" ry="1.45" fill="#ff1a1a"/>
<ellipse cx="54.14" cy="161.65" rx="1.7" ry="1.45" fill="#ff1a1a"/>
<ellipse cx="61.72" cy="165.73" rx="1.7" ry="1.45" fill="#ff1a1a"/>
<ellipse cx="69.29" cy="179.81" rx="1.7" ry="1.45" fill="#ff1a1a"/>
<ellipse cx="76.87" cy="200.24" rx="1.7" ry="1.45" fill="#ff1a1a"/>
<ellipse cx="84.45" cy="222.48" rx="1.7" ry="1.45" fill="#ff1a1a"/>
<ellipse cx="92.02" cy="241.32" rx="1.7" ry="1.45" fill="#ff1a1a"/>
<ellipse cx="99.6" cy="251.08" rx="1.7" ry="1.45" fill="#ff1a1a"/>
<ellipse cx="107.18" cy="250.18" rx="1.7" ry="1.45" fill="#ff1a1a"/>
<ellipse cx="114.76" cy="238.83" rx="1.7" ry="1.45" fill="#ff1a1a"/>
<ellipse cx="122.33" cy="219.3" rx="1.7" ry="1.45" fill="#ff1a1a"/>
<ellipse cx="129.91" cy="197.51" rx="1.7" ry="1.45" fill="#ff1a1a"/>
<ellipse cx="137.49" cy="176.63" rx="1.7" ry="1.45" fill="#ff1a1a"/>
<ellipse cx="145.06" cy="164.6" rx="1.7" ry="1.45" fill="#ff1a1a"/>
<ellipse cx="152.64" cy="162.1" rx="1.7" ry="1.45" fill="#ff1a1a"/>
<ellipse cx="160.22" cy="170.73" rx="1.7" ry="1.45" fill="#ff1a1a"/>
<ellipse cx="167.79" cy="187.98" rx="1.7" ry="1.45" fill="#ff1a1a"/>
<ellipse cx="175.37" cy="210.09" rx="1.7" ry="1.45" fill="#ff1a1a"/>
<ellipse cx="182.95" cy="231.56" rx="1.7" ry="1.45" fill="#ff1a1a"/>
<ellipse cx="190.53" cy="246.54" rx="1.7" ry="1.45" fill="#ff1a1a"/>
<ellipse cx="198.1" cy="251.99" rx="1.7" ry="1.45" fill="#ff1a1a"/>
<ellipse cx="205.68" cy="246.09" rx="1.7" ry="1.45" fill="#ff1a1a"/>
<ellipse cx="213.26" cy="230.65" rx="1.7" ry="1.45" fill="#ff1a1a"/>
<ellipse cx="220.83" cy="210" rx="1.7" ry="1.45" fill="#ff1a1a"/>
<ellipse cx="228.41" cy="189.34" rx="1.7" ry="1.45" fill="#ff1a1a"/>
<ellipse cx="235.99" cy="172.09" rx="1.7" ry="1.45" fill="#ff1a1a"/>
<ellipse cx="243.56" cy="163.46" rx="1.7" ry="1.45" fill="#ff1a1a"/>
<ellipse cx="251.14" cy="163.01" rx="1.7" ry="1.45" fill="#ff1a1a"/>
<ellipse cx="258.72" cy="171.18" rx="1.7" ry="1.45" fill="#ff1a1a"/>
<rect x="181.4" y="155.3" width="84.1" height="45.1" fill="white" stroke="#22ec22" stroke-width="1.4"/>
<polyline points="183.3,161.8 184.5,162.5 186.5,161.4 189,158.4 191.4,158.5 194.3,158.7 196.7,160.2 199.2,158.7 201.6,160.2 204.1,158.7 206.5,159.9 209,160 211.4,158.4 213.7,170.6 216.1,170.6 218.6,170.6 221,171.3 223.9,169.8 226.5,171.3 229,170.2 231.4,170.2 233.9,169.6 236.5,169.6 238.6,192.2 241.4,193.8 243.7,192.2 246.3,192.2 248.8,192.6 251.2,194.3 253.7,192.2 256.1,192.6 258.6,193 261.4,192.6 261.7,196.5" fill="none" stroke="#8a8a8a" stroke-width="0.6" />
<rect x="182.8" y="161.3" width="1" height="1" fill="#333"/>
<rect x="184" y="162" width="1" height="1" fill="#333"/>
<rect x="186" y="160.9" width="1" height="1" fill="#333"/>
<rect x="188.5" y="157.9" width="1" height="1" fill="#333"/>
<rect x="190.9" y="158" width="1" height="1" fill="#333"/>
<rect x="193.8" y="158.2" width="1" height="1" fill="#333"/>
<rect x="196.2" y="159.7" width="1" height="1" fill="#333"/>
<rect x="198.7" y="158.2" width="1" height="1" fill="#333"/>
<rect x="201.1" y="159.7" width="1" height="1" fill="#333"/>
<rect x="203.6" y="158.2" width="1" height="1" fill="#333"/>
<rect x="206" y="159.4" width="1" height="1" fill="#333"/>
<rect x="208.5" y="159.5" width="1" height="1" fill="#333"/>
<rect x="210.9" y="157.9" width="1" height="1" fill="#333"/>
<rect x="213.2" y="170.1" width="1" height="1" fill="#333"/>
<rect x="215.6" y="170.1" width="1" height="1" fill="#333"/>
<rect x="218.1" y="170.1" width="1" height="1" fill="#333"/>
<rect x="220.5" y="170.8" width="1" height="1" fill="#333"/>
<rect x="223.4" y="169.3" width="1" height="1" fill="#333"/>
<rect x="226" y="170.8" width="1" height="1" fill="#333"/>
<rect x="228.5" y="169.7" width="1" height="1" fill="#333"/>
<rect x="230.9" y="169.7" width="1" height="1" fill="#333"/>
<rect x="233.4" y="169.1" width="1" height="1" fill="#333"/>
<rect x="236" y="169.1" width="1" height="1" fill="#333"/>
<rect x="238.1" y="191.7" width="1" height="1" fill="#333"/>
<rect x="240.9" y="193.3" width="1" height="1" fill="#333"/>
<rect x="243.2" y="191.7" width="1" height="1" fill="#333"/>
<rect x="245.8" y="191.7" width="1" height="1" fill="#333"/>
<rect x="248.3" y="192.1" width="1" height="1" fill="#333"/>
<rect x="250.7" y="193.8" width="1" height="1" fill="#333"/>
<rect x="253.2" y="191.7" width="1" height="1" fill="#333"/>
<rect x="255.6" y="192.1" width="1" height="1" fill="#333"/>
<rect x="258.1" y="192.5" width="1" height="1" fill="#333"/>
<rect x="260.9" y="192.1" width="1" height="1" fill="#333"/>
<rect x="261.2" y="196" width="1" height="1" fill="#333"/>
<circle cx="199.2" cy="158.7" r="1.1" fill="#ff1a1a"/>
<circle cx="223.9" cy="170.2" r="1.1" fill="#ff1a1a"/>
<circle cx="248.8" cy="192.6" r="1.1" fill="#ff1a1a"/>
<text x="184.3" y="197.6" font-size="6.4" text-anchor="start" >Sampling rate</text>
<line x1="205" y1="190.5" x2="223.5" y2="176.3" stroke="#222" stroke-width="0.7" />
<polygon points="223.5,176.3 221.18,179.85 219.47,177.62" fill="#111"/>
<line x1="150.3" y1="159.3" x2="180.6" y2="155.4" stroke="#22ec22" stroke-width="1.1" />
<polygon points="180.6,155.4 176.84,157.5 176.43,154.32" fill="#22ec22"/>
<line x1="170.8" y1="189.3" x2="180.6" y2="200.2" stroke="#22ec22" stroke-width="1.1" />
<polygon points="180.6,200.2 176.74,198.3 179.12,196.16" fill="#22ec22"/>
<text x="38.2" y="156.9" font-size="8.6" text-anchor="start" >(b)</text>
<text transform="translate(11.3,208.0) rotate(-90)" font-size="8.7" text-anchor="middle">Amplitude, arb.un.</text>
<text x="94.9" y="289.6" font-size="8.9" text-anchor="start" >Number of points, counts</text>
<line x1="306.6" y1="11" x2="306.6" y2="265.4" stroke="#444" stroke-width="1" />
<line x1="306.1" y1="265.4" x2="543.2" y2="265.4" stroke="#444" stroke-width="1" />
<line x1="303.6" y1="21.7" x2="306.6" y2="21.7" stroke="#444" stroke-width="0.9" />
<text x="301.6" y="24.1" font-size="6.9" text-anchor="end" >0</text>
<line x1="304.8" y1="38.04" x2="306.6" y2="38.04" stroke="#444" stroke-width="0.9" />
<line x1="303.6" y1="54.38" x2="306.6" y2="54.38" stroke="#444" stroke-width="0.9" />
<text x="301.6" y="56.78" font-size="6.9" text-anchor="end" >−20</text>
<line x1="304.8" y1="70.72" x2="306.6" y2="70.72" stroke="#444" stroke-width="0.9" />
<line x1="303.6" y1="87.06" x2="306.6" y2="87.06" stroke="#444" stroke-width="0.9" />
<text x="301.6" y="89.46" font-size="6.9" text-anchor="end" >−40</text>
<line x1="304.8" y1="103.4" x2="306.6" y2="103.4" stroke="#444" stroke-width="0.9" />
<line x1="303.6" y1="119.74" x2="306.6" y2="119.74" stroke="#444" stroke-width="0.9" />
<text x="301.6" y="122.14" font-size="6.9" text-anchor="end" >−60</text>
<line x1="304.8" y1="136.08" x2="306.6" y2="136.08" stroke="#444" stroke-width="0.9" />
<line x1="303.6" y1="152.42" x2="306.6" y2="152.42" stroke="#444" stroke-width="0.9" />
<text x="301.6" y="154.82" font-size="6.9" text-anchor="end" >−80</text>
<line x1="304.8" y1="168.76" x2="306.6" y2="168.76" stroke="#444" stroke-width="0.9" />
<line x1="303.6" y1="185.1" x2="306.6" y2="185.1" stroke="#444" stroke-width="0.9" />
<text x="301.6" y="187.5" font-size="6.9" text-anchor="end" >−100</text>
<line x1="304.8" y1="201.44" x2="306.6" y2="201.44" stroke="#444" stroke-width="0.9" />
<line x1="303.6" y1="217.78" x2="306.6" y2="217.78" stroke="#444" stroke-width="0.9" />
<text x="301.6" y="220.18" font-size="6.9" text-anchor="end" >−120</text>
<line x1="304.8" y1="234.12" x2="306.6" y2="234.12" stroke="#444" stroke-width="0.9" />
<line x1="303.6" y1="250.46" x2="306.6" y2="250.46" stroke="#444" stroke-width="0.9" />
<text x="301.6" y="252.86" font-size="6.9" text-anchor="end" >−140</text>
<line x1="306.6" y1="265.4" x2="306.6" y2="268.4" stroke="#444" stroke-width="0.9" />
<text x="306.6" y="276.2" font-size="6.9" text-anchor="middle" >0.0</text>
<line x1="330.23" y1="265.4" x2="330.23" y2="267.2" stroke="#444" stroke-width="0.9" />
<line x1="353.86" y1="265.4" x2="353.86" y2="268.4" stroke="#444" stroke-width="0.9" />
<text x="353.86" y="276.2" font-size="6.9" text-anchor="middle" >0.2</text>
<line x1="377.49" y1="265.4" x2="377.49" y2="267.2" stroke="#444" stroke-width="0.9" />
<line x1="401.12" y1="265.4" x2="401.12" y2="268.4" stroke="#444" stroke-width="0.9" />
<text x="401.12" y="276.2" font-size="6.9" text-anchor="middle" >0.4</text>
<line x1="424.75" y1="265.4" x2="424.75" y2="267.2" stroke="#444" stroke-width="0.9" />
<line x1="448.38" y1="265.4" x2="448.38" y2="268.4" stroke="#444" stroke-width="0.9" />
<text x="448.38" y="276.2" font-size="6.9" text-anchor="middle" >0.6</text>
<line x1="472.01" y1="265.4" x2="472.01" y2="267.2" stroke="#444" stroke-width="0.9" />
<line x1="495.64" y1="265.4" x2="495.64" y2="268.4" stroke="#444" stroke-width="0.9" />
<text x="495.64" y="276.2" font-size="6.9" text-anchor="middle" >0.8</text>
<line x1="519.27" y1="265.4" x2="519.27" y2="267.2" stroke="#444" stroke-width="0.9" />
<line x1="542.9" y1="265.4" x2="542.9" y2="268.4" stroke="#444" stroke-width="0.9" />
<text x="542.9" y="276.2" font-size="6.9" text-anchor="middle" >1.0</text>
<polyline points="306.6,207.3 308.18,194.1 309.75,188.8 311.33,184 312.9,179.7 314.48,176.3 316.05,173.1 317.63,170 319.2,167 320.78,163.9 322.35,160.5 323.93,157.1 325.5,153.8 327.08,150 328.65,145.9 330.23,141.8 331.81,136.8 333.38,130.9 334.96,124.5 336.53,116.8 338.11,106.8 339.68,93.5 341.26,72.3 342.83,28.9 344.41,21.8 345.98,34.5 347.56,80.9 349.13,99.4 350.71,112.7 352.28,122.1 353.86,130.3 355.44,137.5 357.01,143.5 358.59,149.1 360.16,153.8 361.74,158.1 363.31,161.9 364.89,166.2 366.46,169.9 368.04,173.1 369.61,176.4 371.19,179.5 372.76,182.9 374.34,185.6 375.91,188.7 377.49,191.4 379.07,194 380.64,196.7 382.22,199 383.79,201.03 385.37,203.1 386.94,205.24 388.52,207.41 390.09,209.61 391.67,211.83 393.24,214.08 394.82,216.34 396.39,218.6 397.97,220.87 399.54,223.14 401.12,225.4 402.7,227.7 404.27,230.08 405.85,232.5 407.42,234.94 409,237.37 410.57,239.74 412.15,242.05 413.72,244.24 415.3,246.3 416.87,248.2 418.45,249.96 420.02,251.09 421.6,251.38 423.17,251.2 424.75,250.86 426.33,250.4 427.9,249.9 429.48,249.34 431.05,248.77 432.63,248.16 434.2,247.54 435.78,246.96 437.35,246.45 438.93,246 440.5,245.57 442.08,245.16 443.65,244.78 445.23,244.45 446.8,244.18 448.38,243.96 449.96,243.78 451.53,243.62 453.11,243.48 454.68,243.36 456.26,243.27 457.83,243.19 459.41,243.13 460.98,243.08 462.56,243.03 464.13,242.98 465.71,242.95 467.28,242.92 468.86,242.9 470.43,242.9 472.01,242.9 473.59,242.91 475.16,242.91 476.74,242.92 478.31,242.93 479.89,242.95 481.46,242.96 483.04,242.97 484.61,242.99 486.19,243 487.76,243.02 489.34,243.04 490.91,243.05 492.49,243.07 494.06,243.09 495.64,243.1 497.22,243.11 498.79,243.13 500.37,243.14 501.94,243.16 503.52,243.17 505.09,243.19 506.67,243.2 508.24,243.22 509.82,243.24 511.39,243.25 512.97,243.27 514.54,243.28 516.12,243.3 517.69,243.32 519.27,243.34 520.85,243.35 522.42,243.37 524,243.39 525.57,243.41 527.15,243.43 528.72,243.44 530.3,243.46 531.87,243.48 533.45,243.5 535.02,243.52 536.6,243.54 538.17,243.56 539.75,243.58 541.32,243.6 542.9,253.9" fill="none" stroke="#999" stroke-width="0.6" />
<polyline points="413.72,244.24 415.3,246.3 416.87,248.2 418.45,249.96 420.02,251.09 421.6,251.38 423.17,251.2 424.75,250.86 426.33,250.4 427.9,249.9 429.48,249.34 431.05,248.77 432.63,248.16 434.2,247.54 435.78,246.96 437.35,246.45 438.93,246 440.5,245.57 442.08,245.16 443.65,244.78 445.23,244.45 446.8,244.18 448.38,243.96 449.96,243.78 451.53,243.62 453.11,243.48 454.68,243.36 456.26,243.27 457.83,243.19 459.41,243.13 460.98,243.08 462.56,243.03 464.13,242.98 465.71,242.95 467.28,242.92 468.86,242.9 470.43,242.9 472.01,242.9 473.59,242.91 475.16,242.91 476.74,242.92 478.31,242.93 479.89,242.95 481.46,242.96 483.04,242.97 484.61,242.99 486.19,243 487.76,243.02 489.34,243.04 490.91,243.05 492.49,243.07 494.06,243.09 495.64,243.1 497.22,243.11 498.79,243.13 500.37,243.14 501.94,243.16 503.52,243.17 505.09,243.19 506.67,243.2 508.24,243.22 509.82,243.24 511.39,243.25 512.97,243.27 514.54,243.28 516.12,243.3 517.69,243.32 519.27,243.34 520.85,243.35 522.42,243.37 524,243.39 525.57,243.41 527.15,243.43 528.72,243.44 530.3,243.46 531.87,243.48 533.45,243.5 535.02,243.52 536.6,243.54 538.17,243.56 539.75,243.58 541.32,243.6" fill="none" stroke="#111" stroke-width="1.7" stroke-linejoin="round"/>
<rect x="305.6" y="206.3" width="2" height="2" fill="#111"/>
<rect x="307.18" y="193.1" width="2" height="2" fill="#111"/>
<rect x="308.75" y="187.8" width="2" height="2" fill="#111"/>
<rect x="310.33" y="183" width="2" height="2" fill="#111"/>
<rect x="311.9" y="178.7" width="2" height="2" fill="#111"/>
<rect x="313.48" y="175.3" width="2" height="2" fill="#111"/>
<rect x="315.05" y="172.1" width="2" height="2" fill="#111"/>
<rect x="316.63" y="169" width="2" height="2" fill="#111"/>
<rect x="318.2" y="166" width="2" height="2" fill="#111"/>
<rect x="319.78" y="162.9" width="2" height="2" fill="#111"/>
<rect x="321.35" y="159.5" width="2" height="2" fill="#111"/>
<rect x="322.93" y="156.1" width="2" height="2" fill="#111"/>
<rect x="324.5" y="152.8" width="2" height="2" fill="#111"/>
<rect x="326.08" y="149" width="2" height="2" fill="#111"/>
<rect x="327.65" y="144.9" width="2" height="2" fill="#111"/>
<rect x="329.23" y="140.8" width="2" height="2" fill="#111"/>
<rect x="330.81" y="135.8" width="2" height="2" fill="#111"/>
<rect x="332.38" y="129.9" width="2" height="2" fill="#111"/>
<rect x="333.96" y="123.5" width="2" height="2" fill="#111"/>
<rect x="335.53" y="115.8" width="2" height="2" fill="#111"/>
<rect x="337.11" y="105.8" width="2" height="2" fill="#111"/>
<rect x="338.68" y="92.5" width="2" height="2" fill="#111"/>
<rect x="340.26" y="71.3" width="2" height="2" fill="#111"/>
<rect x="341.83" y="27.9" width="2" height="2" fill="#111"/>
<rect x="343.41" y="20.8" width="2" height="2" fill="#111"/>
<rect x="344.98" y="33.5" width="2" height="2" fill="#111"/>
<rect x="346.56" y="79.9" width="2" height="2" fill="#111"/>
<rect x="348.13" y="98.4" width="2" height="2" fill="#111"/>
<rect x="349.71" y="111.7" width="2" height="2" fill="#111"/>
<rect x="351.28" y="121.1" width="2" height="2" fill="#111"/>
<rect x="352.86" y="129.3" width="2" height="2" fill="#111"/>
<rect x="354.44" y="136.5" width="2" height="2" fill="#111"/>
<rect x="356.01" y="142.5" width="2" height="2" fill="#111"/>
<rect x="357.59" y="148.1" width="2" height="2" fill="#111"/>
<rect x="359.16" y="152.8" width="2" height="2" fill="#111"/>
<rect x="360.74" y="157.1" width="2" height="2" fill="#111"/>
<rect x="362.31" y="160.9" width="2" height="2" fill="#111"/>
<rect x="363.89" y="165.2" width="2" height="2" fill="#111"/>
<rect x="365.46" y="168.9" width="2" height="2" fill="#111"/>
<rect x="367.04" y="172.1" width="2" height="2" fill="#111"/>
<rect x="368.61" y="175.4" width="2" height="2" fill="#111"/>
<rect x="370.19" y="178.5" width="2" height="2" fill="#111"/>
<rect x="371.76" y="181.9" width="2" height="2" fill="#111"/>
<rect x="373.34" y="184.6" width="2" height="2" fill="#111"/>
<rect x="374.91" y="187.7" width="2" height="2" fill="#111"/>
<rect x="376.49" y="190.4" width="2" height="2" fill="#111"/>
<rect x="378.07" y="193" width="2" height="2" fill="#111"/>
<rect x="379.64" y="195.7" width="2" height="2" fill="#111"/>
<rect x="381.22" y="198" width="2" height="2" fill="#111"/>
<rect x="382.79" y="200.03" width="2" height="2" fill="#111"/>
<rect x="384.37" y="202.1" width="2" height="2" fill="#111"/>
<rect x="385.94" y="204.24" width="2" height="2" fill="#111"/>
<rect x="387.52" y="206.41" width="2" height="2" fill="#111"/>
<rect x="389.09" y="208.61" width="2" height="2" fill="#111"/>
<rect x="390.67" y="210.83" width="2" height="2" fill="#111"/>
<rect x="392.24" y="213.08" width="2" height="2" fill="#111"/>
<rect x="393.82" y="215.34" width="2" height="2" fill="#111"/>
<rect x="395.39" y="217.6" width="2" height="2" fill="#111"/>
<rect x="396.97" y="219.87" width="2" height="2" fill="#111"/>
<rect x="398.54" y="222.14" width="2" height="2" fill="#111"/>
<rect x="400.12" y="224.4" width="2" height="2" fill="#111"/>
<rect x="401.7" y="226.7" width="2" height="2" fill="#111"/>
<rect x="403.27" y="229.08" width="2" height="2" fill="#111"/>
<rect x="404.85" y="231.5" width="2" height="2" fill="#111"/>
<rect x="406.42" y="233.94" width="2" height="2" fill="#111"/>
<rect x="408" y="236.37" width="2" height="2" fill="#111"/>
<rect x="409.57" y="238.74" width="2" height="2" fill="#111"/>
<rect x="411.15" y="241.05" width="2" height="2" fill="#111"/>
<rect x="412.72" y="243.24" width="2" height="2" fill="#111"/>
<rect x="414.3" y="245.3" width="2" height="2" fill="#111"/>
<rect x="415.87" y="247.2" width="2" height="2" fill="#111"/>
<rect x="417.45" y="248.96" width="2" height="2" fill="#111"/>
<rect x="419.02" y="250.09" width="2" height="2" fill="#111"/>
<rect x="420.6" y="250.38" width="2" height="2" fill="#111"/>
<rect x="422.17" y="250.2" width="2" height="2" fill="#111"/>
<rect x="423.75" y="249.86" width="2" height="2" fill="#111"/>
<rect x="425.33" y="249.4" width="2" height="2" fill="#111"/>
<rect x="426.9" y="248.9" width="2" height="2" fill="#111"/>
<rect x="428.48" y="248.34" width="2" height="2" fill="#111"/>
<rect x="430.05" y="247.77" width="2" height="2" fill="#111"/>
<rect x="431.63" y="247.16" width="2" height="2" fill="#111"/>
<rect x="433.2" y="246.54" width="2" height="2" fill="#111"/>
<rect x="434.78" y="245.96" width="2" height="2" fill="#111"/>
<rect x="436.35" y="245.45" width="2" height="2" fill="#111"/>
<rect x="437.93" y="245" width="2" height="2" fill="#111"/>
<rect x="439.5" y="244.57" width="2" height="2" fill="#111"/>
<rect x="441.08" y="244.16" width="2" height="2" fill="#111"/>
<rect x="442.65" y="243.78" width="2" height="2" fill="#111"/>
<rect x="444.23" y="243.45" width="2" height="2" fill="#111"/>
<rect x="445.8" y="243.18" width="2" height="2" fill="#111"/>
<rect x="447.38" y="242.96" width="2" height="2" fill="#111"/>
<rect x="448.96" y="242.78" width="2" height="2" fill="#111"/>
<rect x="450.53" y="242.62" width="2" height="2" fill="#111"/>
<rect x="452.11" y="242.48" width="2" height="2" fill="#111"/>
<rect x="453.68" y="242.36" width="2" height="2" fill="#111"/>
<rect x="455.26" y="242.27" width="2" height="2" fill="#111"/>
<rect x="456.83" y="242.19" width="2" height="2" fill="#111"/>
<rect x="458.41" y="242.13" width="2" height="2" fill="#111"/>
<rect x="459.98" y="242.08" width="2" height="2" fill="#111"/>
<rect x="461.56" y="242.03" width="2" height="2" fill="#111"/>
<rect x="463.13" y="241.98" width="2" height="2" fill="#111"/>
<rect x="464.71" y="241.95" width="2" height="2" fill="#111"/>
<rect x="466.28" y="241.92" width="2" height="2" fill="#111"/>
<rect x="467.86" y="241.9" width="2" height="2" fill="#111"/>
<rect x="469.43" y="241.9" width="2" height="2" fill="#111"/>
<rect x="471.01" y="241.9" width="2" height="2" fill="#111"/>
<rect x="472.59" y="241.91" width="2" height="2" fill="#111"/>
<rect x="474.16" y="241.91" width="2" height="2" fill="#111"/>
<rect x="475.74" y="241.92" width="2" height="2" fill="#111"/>
<rect x="477.31" y="241.93" width="2" height="2" fill="#111"/>
<rect x="478.89" y="241.95" width="2" height="2" fill="#111"/>
<rect x="480.46" y="241.96" width="2" height="2" fill="#111"/>
<rect x="482.04" y="241.97" width="2" height="2" fill="#111"/>
<rect x="483.61" y="241.99" width="2" height="2" fill="#111"/>
<rect x="485.19" y="242" width="2" height="2" fill="#111"/>
<rect x="486.76" y="242.02" width="2" height="2" fill="#111"/>
<rect x="488.34" y="242.04" width="2" height="2" fill="#111"/>
<rect x="489.91" y="242.05" width="2" height="2" fill="#111"/>
<rect x="491.49" y="242.07" width="2" height="2" fill="#111"/>
<rect x="493.06" y="242.09" width="2" height="2" fill="#111"/>
<rect x="494.64" y="242.1" width="2" height="2" fill="#111"/>
<rect x="496.22" y="242.11" width="2" height="2" fill="#111"/>
<rect x="497.79" y="242.13" width="2" height="2" fill="#111"/>
<rect x="499.37" y="242.14" width="2" height="2" fill="#111"/>
<rect x="500.94" y="242.16" width="2" height="2" fill="#111"/>
<rect x="502.52" y="242.17" width="2" height="2" fill="#111"/>
<rect x="504.09" y="242.19" width="2" height="2" fill="#111"/>
<rect x="505.67" y="242.2" width="2" height="2" fill="#111"/>
<rect x="507.24" y="242.22" width="2" height="2" fill="#111"/>
<rect x="508.82" y="242.24" width="2" height="2" fill="#111"/>
<rect x="510.39" y="242.25" width="2" height="2" fill="#111"/>
<rect x="511.97" y="242.27" width="2" height="2" fill="#111"/>
<rect x="513.54" y="242.28" width="2" height="2" fill="#111"/>
<rect x="515.12" y="242.3" width="2" height="2" fill="#111"/>
<rect x="516.69" y="242.32" width="2" height="2" fill="#111"/>
<rect x="518.27" y="242.34" width="2" height="2" fill="#111"/>
<rect x="519.85" y="242.35" width="2" height="2" fill="#111"/>
<rect x="521.42" y="242.37" width="2" height="2" fill="#111"/>
<rect x="523" y="242.39" width="2" height="2" fill="#111"/>
<rect x="524.57" y="242.41" width="2" height="2" fill="#111"/>
<rect x="526.15" y="242.43" width="2" height="2" fill="#111"/>
<rect x="527.72" y="242.44" width="2" height="2" fill="#111"/>
<rect x="529.3" y="242.46" width="2" height="2" fill="#111"/>
<rect x="530.87" y="242.48" width="2" height="2" fill="#111"/>
<rect x="532.45" y="242.5" width="2" height="2" fill="#111"/>
<rect x="534.02" y="242.52" width="2" height="2" fill="#111"/>
<rect x="535.6" y="242.54" width="2" height="2" fill="#111"/>
<rect x="537.17" y="242.56" width="2" height="2" fill="#111"/>
<rect x="538.75" y="242.58" width="2" height="2" fill="#111"/>
<rect x="540.32" y="242.6" width="2" height="2" fill="#111"/>
<rect x="541.9" y="252.9" width="2" height="2" fill="#111"/>
<rect x="334.5" y="15.9" width="20" height="71.1" fill="none" stroke="#22ec22" stroke-width="1.4"/>
<line x1="354.5" y1="15.9" x2="417.6" y2="32.2" stroke="#22ec22" stroke-width="1.1" />
<polygon points="417.6,32.2 412.82,32.72 413.67,29.43" fill="#22ec22"/>
<line x1="354.3" y1="87" x2="418" y2="176.6" stroke="#22ec22" stroke-width="1.1" />
<polygon points="418,176.6 414.01,173.92 416.78,171.95" fill="#22ec22"/>
<rect x="418.7" y="32.2" width="99.8" height="145.2" fill="white" stroke="#22ec22" stroke-width="1.4"/>
<polyline points="423.4,159.4 438,126.7 455.1,50.8 472.1,38.1 488.8,60 505.4,140.6 514.1,159.4" fill="none" stroke="#888" stroke-width="0.6" />
<rect x="437.2" y="125.9" width="1.6" height="1.6" fill="#111"/>
<rect x="454.3" y="50" width="1.6" height="1.6" fill="#111"/>
<rect x="471.3" y="37.3" width="1.6" height="1.6" fill="#111"/>
<rect x="488" y="59.2" width="1.6" height="1.6" fill="#111"/>
<rect x="504.6" y="139.8" width="1.6" height="1.6" fill="#111"/>
<line x1="464.6" y1="159.4" x2="464.6" y2="50" stroke="#777" stroke-width="0.8" />
<polygon points="464.6,47 466.3,51.5 462.9,51.5" fill="#111"/>
<line x1="463.3" y1="44.5" x2="455" y2="44.5" stroke="#111" stroke-width="1.1" />
<polygon points="455,44.5 459.5,42.6 459.5,46.4" fill="#111"/>
<line x1="463.3" y1="44.5" x2="471.6" y2="44.5" stroke="#111" stroke-width="1.1" />
<polygon points="471.6,44.5 467.1,46.4 467.1,42.6" fill="#111"/>
<text x="429.4" y="171.6" font-size="8.4" text-anchor="start" >Spatial sampling, δl</text>
<text x="439.9" y="213.8" font-size="8.55" text-anchor="start" >Maximum length, L<tspan font-size="6.5" dy="2.3">max</tspan></text>
<line x1="540.6" y1="241.3" x2="483.8" y2="218.2" stroke="#333" stroke-width="0.7" />
<polygon points="483.8,218.2 488.53,218.51 487.4,221.28" fill="#111"/>
<text x="309.9" y="17.6" font-size="8.5" text-anchor="start" >(c)</text>
<text transform="translate(281.6,138.0) rotate(-90)" font-size="8.2" text-anchor="middle">Amplitude, dB</text>
<text x="394.9" y="289.5" font-size="8.3" text-anchor="start" >Length, arb.un.</text>
</svg>
</body></html>
